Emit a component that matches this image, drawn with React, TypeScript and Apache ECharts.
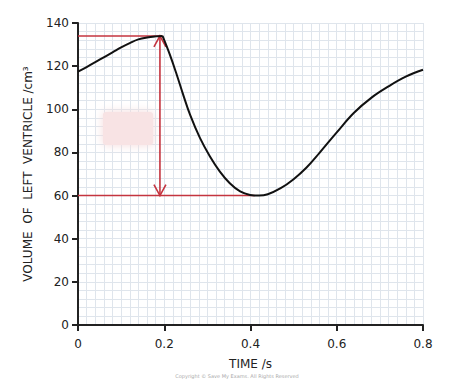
import React, { useEffect, useRef } from "react";
import * as echarts from "echarts";

// Volume of left ventricle (cm³) against time (s)
const times = [0, 0.02, 0.05, 0.08, 0.1, 0.12, 0.14, 0.16, 0.18, 0.196, 0.213, 0.229, 0.244, 0.26, 0.283, 0.306, 0.329, 0.352, 0.376, 0.399, 0.42, 0.44, 0.47, 0.5, 0.53, 0.56, 0.6, 0.64, 0.68, 0.72, 0.76, 0.8];
const volumes = [117.5, 119.6, 123, 126.4, 128.7, 130.7, 132.4, 133.3, 133.8, 134, 125.3, 116, 106.7, 97.4, 86.6, 78.1, 71.1, 65.7, 61.9, 60.3, 60, 60.6, 63.4, 67.6, 73, 79.8, 89.3, 98.4, 105.3, 110.6, 115.1, 118.3];
const peakIndex = 9; // end of filling / start of ejection

const xTicks = [0, 0.2, 0.4, 0.6, 0.8];
const yTicks = [0, 20, 40, 60, 80, 100, 120, 140];

// Annotation: [x1, y1, x2, y2, arrowAtStart, arrowAtEnd]
const annotations = [
  [0, 134, 0.196, 134, 0, 0],
  [0, 60, 0.41, 60, 0, 0],
  [0.19, 134, 0.19, 60, 1, 1],
];

const RED = "#c4343f";
const FONT = "DejaVu Sans";

export default function App() {
  const ref = useRef<HTMLDivElement>(null);
  useEffect(() => {
    const chart = echarts.init(ref.current!, null, { renderer: "svg" });
    const gridColor = "#dfe5ec";
    const pts = times.map((t, i) => [t, volumes[i]]);
    const curve = (data: number[][]) => ({
      type: "line",
      data,
      smooth: 0.4,
      symbol: "none",
      lineStyle: { color: "#111", width: 2 },
      z: 4,
    });
    chart.setOption({
      animation: false,
      backgroundColor: "#ffffff",
      grid: { left: 78, right: 51, top: 23, bottom: 66 },
      xAxis: {
        type: "value",
        min: xTicks[0],
        max: xTicks[xTicks.length - 1],
        interval: 0.2,
        name: "TIME /s",
        nameLocation: "middle",
        nameGap: 33,
        nameTextStyle: { fontFamily: FONT, fontSize: 12, color: "#222" },
        axisLine: { show: true, lineStyle: { color: "#222", width: 2 } },
        axisTick: { show: true, length: 6, lineStyle: { color: "#222", width: 2 } },
        axisLabel: {
          fontFamily: FONT,
          fontSize: 12,
          color: "#222",
          margin: 13,
          formatter: (v: number) => String(Math.round(v * 10) / 10),
        },
        splitLine: { show: true, lineStyle: { color: gridColor, width: 1 } },
        minorTick: { show: false, splitNumber: 10 },
        minorSplitLine: { show: true, lineStyle: { color: gridColor, width: 1 } },
      },
      yAxis: {
        type: "value",
        min: yTicks[0],
        max: yTicks[yTicks.length - 1],
        interval: 20,
        name: "VOLUME  OF  LEFT  VENTRICLE /cm³",
        nameLocation: "middle",
        nameGap: 44,
        nameRotate: 90,
        nameTextStyle: { fontFamily: FONT, fontSize: 12, color: "#222" },
        axisLine: { show: true, lineStyle: { color: "#222", width: 2 } },
        axisTick: { show: true, length: 6, lineStyle: { color: "#222", width: 2 } },
        axisLabel: { fontFamily: FONT, fontSize: 12, color: "#222", margin: 9 },
        splitLine: { show: true, lineStyle: { color: gridColor, width: 1 } },
        minorTick: { show: false, splitNumber: 5 },
        minorSplitLine: { show: true, lineStyle: { color: gridColor, width: 1 } },
      },
      graphic: [
        {
          type: "rect",
          shape: { x: 103, y: 112, width: 50, height: 33, r: 3 },
          style: { fill: "#f8e3e4", shadowBlur: 10, shadowColor: "#f4dadb" },
          z: 1,
        },
        {
          type: "text",
          x: 237,
          y: 376,
          style: {
            text: "Copyright © Save My Exams. All Rights Reserved",
            fontSize: 5,
            fontFamily: FONT,
            fill: "#aaaaaa",
            align: "center",
            verticalAlign: "middle",
          },
        },
      ],
      series: [
        {
          type: "custom",
          coordinateSystem: "cartesian2d",
          data: annotations,
          z: 3,
          renderItem: (params: any, api: any) => {
            const p1 = api.coord([api.value(0), api.value(1)]);
            const p2 = api.coord([api.value(2), api.value(3)]);
            const children: any[] = [
              {
                type: "line",
                shape: { x1: p1[0], y1: p1[1], x2: p2[0], y2: p2[1] },
                style: { stroke: RED, lineWidth: 1.6 },
              },
            ];
            const dx = p2[0] - p1[0];
            const dy = p2[1] - p1[1];
            const len = Math.sqrt(dx * dx + dy * dy) || 1;
            const ux = dx / len;
            const uy = dy / len;
            const head = (tip: number[], dirx: number, diry: number) => {
              const L = 11;
              const W = 6;
              const bx = tip[0] - dirx * L;
              const by = tip[1] - diry * L;
              return {
                type: "polyline",
                shape: {
                  points: [
                    [bx - diry * W, by + dirx * W],
                    [tip[0], tip[1]],
                    [bx + diry * W, by - dirx * W],
                  ],
                },
                style: { stroke: RED, lineWidth: 1.6, fill: "none" },
              };
            };
            if (api.value(4)) children.push(head(p1, -ux, -uy));
            if (api.value(5)) children.push(head(p2, ux, uy));
            return { type: "group", children };
          },
        },
        curve(pts.slice(0, peakIndex + 1)),
        curve(pts.slice(peakIndex)),
      ],
    });
    return () => chart.dispose();
  }, []);
  return <div ref={ref} style={{ width: 474, height: 391, margin: -8 }} />;
}
